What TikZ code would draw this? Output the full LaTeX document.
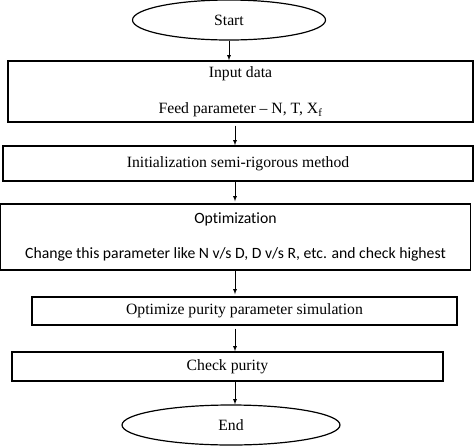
\documentclass[tikz,border=0pt]{standalone}
\usepackage{fontspec}
\setmainfont{Liberation Serif}
\newfontfamily\calibrifont[Ligatures=NoCommon]{Carlito}
\usetikzlibrary{shapes.geometric}
\usetikzlibrary{arrows}

\begin{document}
\begin{tikzpicture}[x=1pt,y=-1pt]
    \tikzset{ term/.style ={draw, ellipse, line width=1.2pt, inner sep=0pt, font=\fontsize{15.7}{19}\selectfont} }
    \tikzset{ proc/.style ={draw, rectangle, line width=1.4pt, inner sep=0pt, align=center, font=\fontsize{15.7}{19}\selectfont} }

    \useasboundingbox (0,0) rectangle (474,445);

    \node[term, minimum width=193pt, minimum height=40pt] (start) at (229, 20) {Start};
    \node[proc, minimum width=465pt, minimum height=61pt] (inp) at (240.5, 91.5) {Input data\\[17pt]Feed parameter -- N, T, X\textsubscript{f}};
    \node[proc, minimum width=470pt, minimum height=35pt] (ini) at (238, 163.5) {Initialization semi-rigorous method};
    \node[proc, minimum width=470pt, minimum height=66pt, font=\calibrifont\fontsize{15.7}{19}\selectfont] (opt) at (235.5, 237) {Optimization\\[16pt]Change this parameter like N v/s D, D v/s R, etc. and check highest};
    \node[proc, minimum width=425pt, minimum height=28pt] (sim) at (244.5, 311) {Optimize purity parameter simulation};
    \node[proc, minimum width=431pt, minimum height=29pt] (chk) at (227.5, 366.5) {Check purity};
    \node[term, minimum width=218pt, minimum height=40pt] (end) at (231, 425) {End};

    \coordinate (ax) at (235, 0);

    \draw[->,>=latex, line width=0.8pt] (start)              -- (start |- inp.north);
    \draw[->,>=latex, line width=0.8pt] ([yshift=-3pt]inp.south -| ax) -- (ini.north -| ax);
    \draw[->,>=latex, line width=0.8pt] (ini.south -| ax)    -- ([yshift=2pt]opt.north -| ax);
    \draw[->,>=latex, line width=0.8pt] (opt.south -| ax)    -- ([yshift=2pt]sim.north -| ax);
    \draw[->,>=latex, line width=0.8pt] ([yshift=-3pt]sim.south -| ax) -- (chk.north -| ax);
    \draw[->,>=latex, line width=0.8pt] (chk.south -| ax)    -- (end.north -| ax);

\end{tikzpicture}
\end{document}
